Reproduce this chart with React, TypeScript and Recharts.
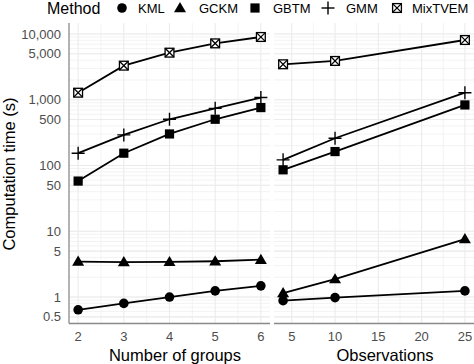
import React from 'react'
import { LineChart, Line, XAxis, YAxis, CartesianGrid } from 'recharts'

// facet 1: number of groups
const GROUPS = [2, 3, 4, 5, 6]
const KML_G = [0.64, 0.8, 1.0, 1.24, 1.48]
const GCKM_G = [3.46, 3.4, 3.42, 3.5, 3.7]
const GBTM_G = [58, 154, 302, 505, 760]
const GMM_G = [154, 292, 505, 740, 1080]
const MIX_G = [1280, 3300, 5200, 7200, 9000]

// facet 2: observations
const OBS = [4, 10, 25]
const KML_O = [0.88, 0.98, 1.24]
const GCKM_O = [1.15, 1.87, 7.6]
const GBTM_O = [86, 163, 834]
const GMM_O = [122, 260, 1280]
const MIX_O = [3460, 3890, 8100]

const Y_TICKS = [0.5, 1, 5, 10, 50, 100, 500, 1000, 5000, 10000]
const Y_MINOR = [0.4, 0.5, 0.6, 0.7, 0.8, 0.9, 1, 2, 3, 4, 5, 6, 7, 8, 9, 10, 20, 30, 40, 50, 60, 70, 80, 90,
  100, 200, 300, 400, 500, 600, 700, 800, 900, 1000, 2000, 3000, 4000, 5000, 6000, 7000, 8000, 9000, 10000]
const G_TICKS = [2, 3, 4, 5, 6]
const G_MINOR = [2.5, 3.5, 4.5, 5.5]
const O_TICKS = [5, 10, 15, 20, 25]
const O_MINOR = [7.5, 12.5, 17.5, 22.5]

const METHODS = ['KML', 'GCKM', 'GBTM', 'GMM', 'MixTVEM']

const FONT = '"Liberation Sans", Arial, Helvetica, sans-serif'
const Y_DOMAIN = [0.396, 14690]
const GRID = '#ebebeb'
const AXIS = '#8a8a8a'

const groupRows = GROUPS.map((x, i) => ({
  x, KML: KML_G[i], GCKM: GCKM_G[i], GBTM: GBTM_G[i], GMM: GMM_G[i], MixTVEM: MIX_G[i],
}))
const obsRows = OBS.map((x, i) => ({
  x, KML: KML_O[i], GCKM: GCKM_O[i], GBTM: GBTM_O[i], GMM: GMM_O[i], MixTVEM: MIX_O[i],
}))

function Shape({ kind, cx, cy }: { kind: string; cx: number; cy: number }) {
  if (kind === 'KML') return <circle cx={cx} cy={cy} r={4.8} fill="#000" />
  if (kind === 'GCKM') {
    return <path d={`M${cx},${cy - 6} L${cx + 6},${cy + 4.2} L${cx - 6},${cy + 4.2} Z`} fill="#000" />
  }
  if (kind === 'GBTM') return <rect x={cx - 4.6} y={cy - 4.6} width={9.2} height={9.2} fill="#000" />
  if (kind === 'GMM') {
    return (
      <g stroke="#000" strokeWidth={1.4}>
        <line x1={cx - 6.5} y1={cy} x2={cx + 6.5} y2={cy} />
        <line x1={cx} y1={cy - 6.5} x2={cx} y2={cy + 6.5} />
      </g>
    )
  }
  return (
    <g stroke="#000" strokeWidth={1.3} fill="#fff">
      <rect x={cx - 4.4} y={cy - 4.4} width={8.8} height={8.8} />
      <line x1={cx - 4.4} y1={cy - 4.4} x2={cx + 4.4} y2={cy + 4.4} />
      <line x1={cx + 4.4} y1={cy - 4.4} x2={cx - 4.4} y2={cy + 4.4} />
    </g>
  )
}

const dotFor = (kind: string) => (p: any) =>
  <Shape key={`${kind}-${p.index}`} kind={kind} cx={p.cx} cy={p.cy} />

const tickStyle = { fontSize: 13, fill: '#4d4d4d', fontFamily: FONT }
const fmt = (v: number) => v.toLocaleString('en-US')

function Series() {
  return METHODS.map(m => (
    <Line key={m} dataKey={m} stroke="#000" strokeWidth={1.8} dot={dotFor(m)}
      activeDot={false} isAnimationActive={false} />
  ))
}

function Panel({ data, domain, ticks, minor, showY, width, marginLeft }: any) {
  return (
    <LineChart width={width} height={364} data={data}
      margin={{ top: 23, right: 0, bottom: 0.5, left: marginLeft }}>
      <CartesianGrid stroke={GRID} strokeWidth={0.6} horizontalValues={Y_MINOR} verticalValues={minor} />
      <CartesianGrid stroke={GRID} strokeWidth={1.1} horizontalValues={Y_TICKS} verticalValues={ticks} />
      <XAxis dataKey="x" type="number" domain={domain} ticks={ticks} allowDataOverflow interval={0}
        tickLine={false} axisLine={{ stroke: AXIS, strokeWidth: 1.3 }} tick={tickStyle} height={40} />
      <YAxis type="number" scale="log" domain={Y_DOMAIN} ticks={Y_TICKS} allowDataOverflow interval={0}
        hide={!showY} width={69} tickFormatter={fmt} tickLine={false}
        axisLine={{ stroke: AXIS, strokeWidth: 1.3 }} tick={tickStyle} />
      {Series()}
    </LineChart>
  )
}

function Legend() {
  const items = [
    { m: 'KML', ix: 122, tx: 138 },
    { m: 'GCKM', ix: 180, tx: 199 },
    { m: 'GBTM', ix: 255, tx: 273 },
    { m: 'GMM', ix: 328, tx: 346 },
    { m: 'MixTVEM', ix: 397, tx: 412 },
  ]
  return (
    <g fontFamily={FONT}>
      <text x={47} y={14} fontSize={16} fill="#000">Method</text>
      {items.map(it => (
        <g key={it.m}>
          <Shape kind={it.m} cx={it.ix} cy={8} />
          <text x={it.tx} y={12.5} fontSize={13} fill="#000">{it.m}</text>
        </g>
      ))}
    </g>
  )
}

export default function App() {
  return (
    <div style={{ position: 'absolute', left: 0, top: 0, width: 474, height: 364, background: '#fff' }}>
      <div style={{ position: 'absolute', left: 0, top: 0 }}>
        <Panel data={groupRows} domain={[1.8, 6.2]} ticks={G_TICKS} minor={G_MINOR}
          showY width={270} marginLeft={0} />
      </div>
      <div style={{ position: 'absolute', left: 270, top: 0 }}>
        <Panel data={obsRows} domain={[2.95, 26.05]} ticks={O_TICKS} minor={O_MINOR}
          showY={false} width={204} marginLeft={4} />
      </div>
      <svg width={474} height={364} style={{ position: 'absolute', left: 0, top: 0, pointerEvents: 'none' }}>
        <Legend />
        <g fontFamily={FONT} fontSize={16.5} fill="#000">
          <text x={175} y={361} textAnchor="middle">Number of groups</text>
          <text x={385} y={361} textAnchor="middle">Observations</text>
          <text transform="translate(15,174) rotate(-90)" textAnchor="middle">Computation time (s)</text>
        </g>
      </svg>
    </div>
  )
}
